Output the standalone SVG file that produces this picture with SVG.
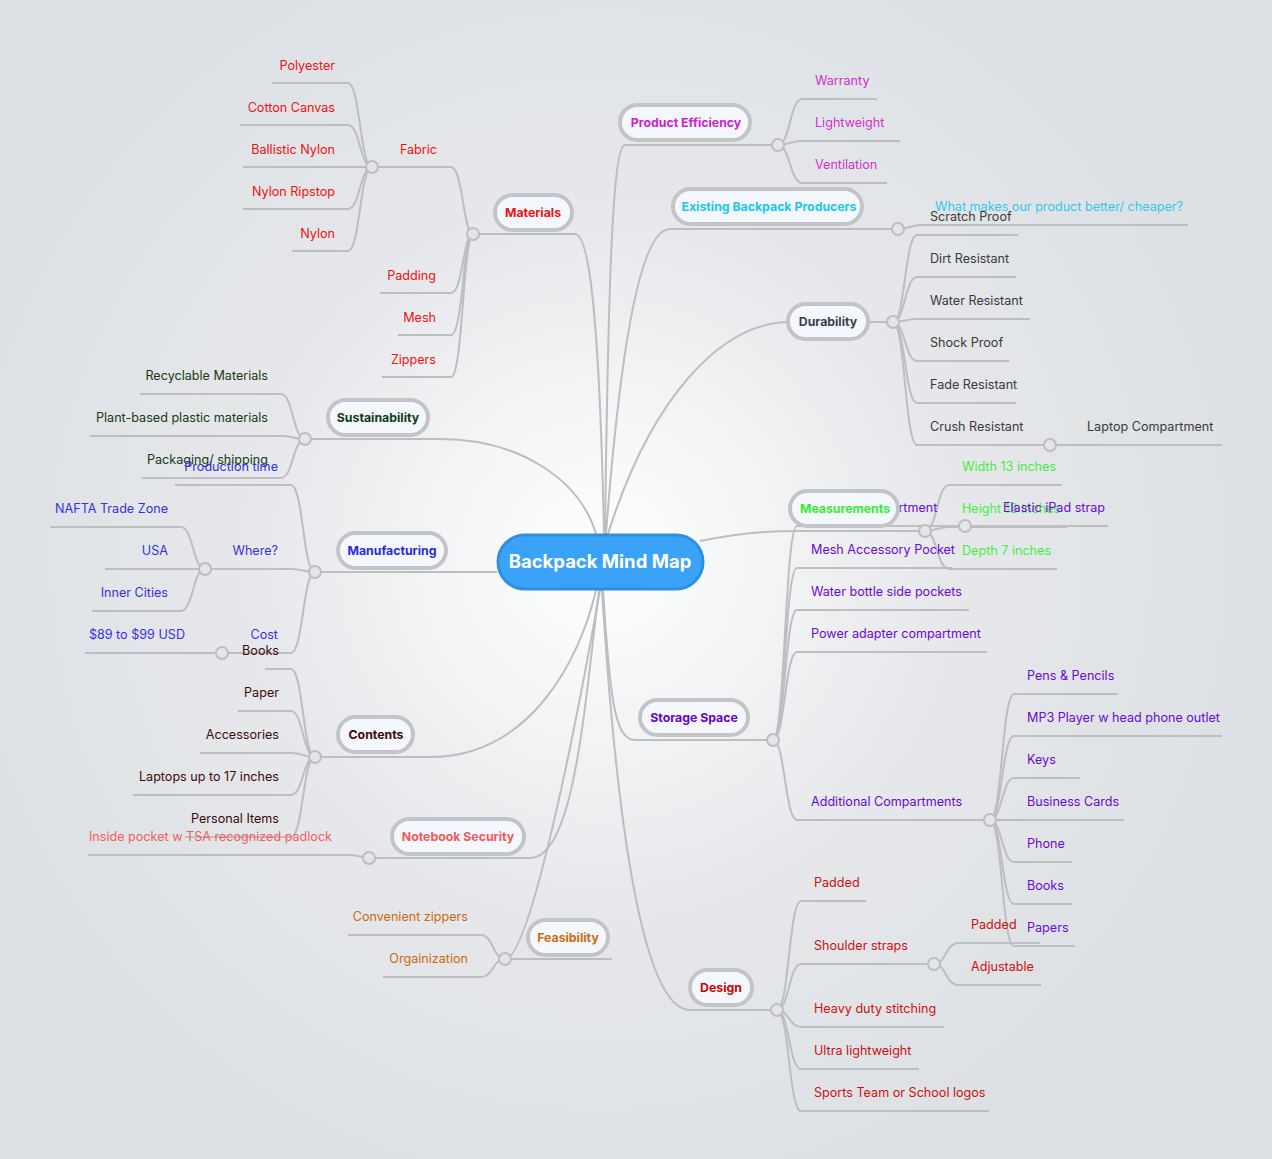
<svg xmlns="http://www.w3.org/2000/svg" width="1272" height="1159" viewBox="0 0 1272 1159">
<defs>
<radialGradient id="bg" cx="600" cy="560" r="700" gradientUnits="userSpaceOnUse">
<stop offset="0" stop-color="#ffffff"/><stop offset="0.5" stop-color="#e6e8eb"/><stop offset="1" stop-color="#dcdfe3"/>
</radialGradient>
<style>
text{font-family:Inter,"Noto Sans","Liberation Sans",sans-serif;font-size:12.6px}
.c path{fill:none;stroke:#bdbec1;stroke-width:2}
.dot{fill:#e3e5e8;stroke:#bdbec1;stroke-width:2}
.pill{fill:#f4f8fe;stroke:#c3c4c6;stroke-width:4}
.t{font-weight:bold;text-anchor:middle;font-size:12.3px}
.e{text-anchor:end}
</style>
</defs>
<rect width="1272" height="1159" fill="url(#bg)"/>
<g id="connectors" class="c">
<path d="M604 534 C600 350 592 234 575 234 H473"/>
<path d="M596 534 C580 480 520 439 440 439 H305"/>
<path d="M497 572 H315"/>
<path d="M596 590 C580 660 530 757 430 757 H315"/>
<path d="M599 590 C585 700 575 858 530 858 H369"/>
<path d="M600 590 C570 760 528 959 505 959 M505 959 H612"/>
<path d="M605 534 C608 300 612 145 625 145 H778"/>
<path d="M606 534 C620 350 640 229 670 229 H898"/>
<path d="M608 534 C650 400 720 322 790 322 M868 322 H893"/>
<path d="M700 541 C750 531 780 531 800 531 H925"/>
<path d="M603 590 C610 700 615 740 635 740 H773"/>
<path d="M602 590 C615 800 640 1010 690 1010 H777"/>
<path d="M473 234 C463 234 463 167 451 167 H372"/>
<path d="M473 234 C463 234 463 293 451 293 H380"/>
<path d="M473 234 C463 234 463 335 451 335 H398"/>
<path d="M473 234 C463 234 463 377 451 377 H382"/>
<path d="M372 167 C360 167 360 83 348 83 H272"/>
<path d="M372 167 C360 167 360 125 348 125 H240"/>
<path d="M372 167 H243"/>
<path d="M372 167 C360 167 360 209 348 209 H243"/>
<path d="M372 167 C360 167 360 251 348 251 H292"/>
<path d="M305 439 C293 439 293 394 281 394 H140"/>
<path d="M305 439 C293 439 293 436 281 436 H90"/>
<path d="M305 439 C293 439 293 478 281 478 H142"/>
<path d="M315 572 C303 572 303 485 291 485 H175"/>
<path d="M315 572 C303 572 303 569 291 569 H205"/>
<path d="M315 572 C303 572 303 653 291 653 H222"/>
<path d="M205 569 C193 569 193 527 181 527 H50"/>
<path d="M205 569 H105"/>
<path d="M205 569 C193 569 193 611 181 611 H92"/>
<path d="M222 653 H85"/>
<path d="M315 757 C303 757 303 669 291 669 H265"/>
<path d="M315 757 C303 757 303 711 291 711 H238"/>
<path d="M315 757 C303 757 303 753 291 753 H200"/>
<path d="M315 757 C303 757 303 795 291 795 H133"/>
<path d="M315 757 C303 757 303 837 291 837 H185"/>
<path d="M369 858 C360 858 360 855 350 855 H88"/>
<path d="M505 959 C493 959 493 935 481 935 H348"/>
<path d="M505 959 C493 959 493 977 481 977 H383"/>
<path d="M778 145 C790 145 790 99 802 99 H877"/>
<path d="M778 145 C790 145 790 141 802 141 H900"/>
<path d="M778 145 C790 145 790 183 802 183 H887"/>
<path d="M898 229 C910 229 910 225 922 225 H1188"/>
<path d="M893 322 C905 322 905 235 917 235 H1018"/>
<path d="M893 322 C905 322 905 277 917 277 H1016"/>
<path d="M893 322 C905 322 905 319 917 319 H1030"/>
<path d="M893 322 C905 322 905 361 917 361 H1009"/>
<path d="M893 322 C905 322 905 403 917 403 H1016"/>
<path d="M893 322 C905 322 905 445 917 445 H1222"/>
<path d="M925 531 C937 531 937 485 949 485 H1062"/>
<path d="M925 531 C937 531 937 527 949 527 H1067"/>
<path d="M925 531 C937 531 937 569 949 569 H1057"/>
<path d="M773 740 C785 740 785 526 797 526 H965 H1108"/>
<path d="M773 740 C785 740 785 568 797 568 H952"/>
<path d="M773 740 C785 740 785 610 797 610 H969"/>
<path d="M773 740 C785 740 785 652 797 652 H987"/>
<path d="M773 740 C785 740 785 820 797 820 H990"/>
<path d="M990 820 C1002 820 1002 694 1014 694 H1118"/>
<path d="M990 820 C1002 820 1002 736 1014 736 H1222"/>
<path d="M990 820 C1002 820 1002 778 1014 778 H1080"/>
<path d="M990 820 H1124"/>
<path d="M990 820 C1002 820 1002 862 1014 862 H1072"/>
<path d="M990 820 C1002 820 1002 904 1014 904 H1072"/>
<path d="M990 820 C1002 820 1002 946 1014 946 H1075"/>
<path d="M777 1010 C789 1010 789 901 801 901 H866"/>
<path d="M777 1010 C789 1010 789 964 801 964 H934"/>
<path d="M777 1010 C789 1010 789 1027 801 1027 H944"/>
<path d="M777 1010 C789 1010 789 1069 801 1069 H919"/>
<path d="M777 1010 C789 1010 789 1111 801 1111 H989"/>
<path d="M934 964 C946 964 946 943 958 943 H1040"/>
<path d="M934 964 C946 964 946 985 958 985 H1041"/>
</g>
<g id="dots">
<circle class="dot" cx="473" cy="234" r="6"/><circle class="dot" cx="372" cy="167" r="6"/>
<circle class="dot" cx="305" cy="439" r="6"/><circle class="dot" cx="315" cy="572" r="6"/>
<circle class="dot" cx="205" cy="569" r="6"/><circle class="dot" cx="222" cy="653" r="6"/>
<circle class="dot" cx="315" cy="757" r="6"/><circle class="dot" cx="369" cy="858" r="6"/>
<circle class="dot" cx="505" cy="959" r="6"/><circle class="dot" cx="778" cy="145" r="6"/>
<circle class="dot" cx="898" cy="229" r="6"/><circle class="dot" cx="893" cy="322" r="6"/>
<circle class="dot" cx="1050" cy="445" r="6"/><circle class="dot" cx="925" cy="531" r="6"/>
<circle class="dot" cx="965" cy="526" r="6"/><circle class="dot" cx="773" cy="740" r="6"/>
<circle class="dot" cx="990" cy="820" r="6"/><circle class="dot" cx="777" cy="1010" r="6"/>
<circle class="dot" cx="934" cy="964" r="6"/>
</g>
<g id="leaves">
<g fill="#ee1111">
<text x="437" y="154" class="e">Fabric</text><text x="436" y="280" class="e">Padding</text>
<text x="436" y="322" class="e">Mesh</text><text x="436" y="364" class="e">Zippers</text>
<text x="335" y="70" class="e">Polyester</text><text x="335" y="112" class="e">Cotton Canvas</text>
<text x="335" y="154" class="e">Ballistic Nylon</text><text x="335" y="196" class="e">Nylon Ripstop</text>
<text x="335" y="238" class="e">Nylon</text>
</g>
<g fill="#163a16">
<text x="268" y="380" class="e">Recyclable Materials</text><text x="268" y="422" class="e">Plant-based plastic materials</text>
<text x="268" y="464" class="e">Packaging/ shipping</text>
</g>
<g fill="#3333dd">
<text x="278" y="471" class="e">Production time</text><text x="278" y="555" class="e">Where?</text>
<text x="278" y="639" class="e">Cost</text><text x="168" y="513" class="e">NAFTA Trade Zone</text>
<text x="168" y="555" class="e">USA</text><text x="168" y="597" class="e">Inner Cities</text>
<text x="185" y="639" class="e">$89 to $99 USD</text>
</g>
<g fill="#3d0a0a">
<text x="279" y="655" class="e">Books</text><text x="279" y="697" class="e">Paper</text>
<text x="279" y="739" class="e">Accessories</text><text x="279" y="781" class="e">Laptops up to 17 inches</text>
<text x="279" y="823" class="e">Personal Items</text>
</g>
<text x="332" y="841" class="e" fill="#f06060">Inside pocket w TSA recognized padlock</text>
<g fill="#cc6a10">
<text x="468" y="921" class="e">Convenient zippers</text><text x="468" y="963" class="e">Orgainization</text>
</g>
<g fill="#cc33cc">
<text x="815" y="85">Warranty</text><text x="815" y="127">Lightweight</text><text x="815" y="169">Ventilation</text>
</g>
<text x="935" y="211" fill="#33c8f0">What makes our product better/ cheaper?</text>
<g fill="#3a3a3a">
<text x="930" y="221">Scratch Proof</text><text x="930" y="263">Dirt Resistant</text>
<text x="930" y="305">Water Resistant</text><text x="930" y="347">Shock Proof</text>
<text x="930" y="389">Fade Resistant</text><text x="930" y="431">Crush Resistant</text>
<text x="1087" y="431">Laptop Compartment</text>
</g>
<g fill="#44ee44">
<text x="962" y="471">Width 13 inches</text><text x="962" y="513">Height 18 inches</text><text x="962" y="555">Depth 7 inches</text>
</g>
<g fill="#6a0ad4">
<text x="811" y="512">Laptop Compartment</text><text x="1003" y="512">Elastic iPad strap</text>
<text x="811" y="554">Mesh Accessory Pocket</text><text x="811" y="596">Water bottle side pockets</text>
<text x="811" y="638">Power adapter compartment</text><text x="811" y="806">Additional Compartments</text>
<text x="1027" y="680">Pens &amp; Pencils</text><text x="1027" y="722">MP3 Player w head phone outlet</text>
<text x="1027" y="764">Keys</text><text x="1027" y="806">Business Cards</text>
<text x="1027" y="848">Phone</text><text x="1027" y="890">Books</text><text x="1027" y="932">Papers</text>
</g>
<g fill="#cc1111">
<text x="814" y="887">Padded</text><text x="814" y="950">Shoulder straps</text>
<text x="814" y="1013">Heavy duty stitching</text><text x="814" y="1055">Ultra lightweight</text>
<text x="814" y="1097">Sports Team or School logos</text>
<text x="971" y="929">Padded</text><text x="971" y="971">Adjustable</text>
</g>
</g>
<g id="n-materials"><rect class="pill" x="495" y="195" width="77" height="35" rx="17.5"/><text class="t" x="533" y="217" fill="#ee1111">Materials</text></g>
<g id="n-sustainability"><rect class="pill" x="328" y="400" width="100" height="35" rx="17.5"/><text class="t" x="378" y="422" fill="#0d3d14">Sustainability</text></g>
<g id="n-manufacturing"><rect class="pill" x="338" y="533" width="108" height="35" rx="17.5"/><text class="t" x="392" y="555" fill="#2b2bd9">Manufacturing</text></g>
<g id="n-contents"><rect class="pill" x="338" y="717" width="75" height="35" rx="17.5"/><text class="t" x="376" y="739" fill="#3d0a0a">Contents</text></g>
<g id="n-notebook"><rect class="pill" x="392" y="819" width="132" height="35" rx="17.5"/><text class="t" x="458" y="841" fill="#f05a5a">Notebook Security</text></g>
<g id="n-feasibility"><rect class="pill" x="528" y="920" width="80" height="35" rx="17.5"/><text class="t" x="568" y="942" fill="#cc6a10">Feasibility</text></g>
<g id="n-product"><rect class="pill" x="620" y="105" width="130" height="35" rx="17.5"/><text class="t" x="686" y="127" fill="#cc22cc">Product Efficiency</text></g>
<g id="n-existing"><rect class="pill" x="673" y="189" width="189" height="35" rx="17.5"/><text class="t" x="769" y="211" fill="#22c5ee">Existing Backpack Producers</text></g>
<g id="n-durability"><rect class="pill" x="788" y="304" width="80" height="35" rx="17.5"/><text class="t" x="828" y="326" fill="#3a3f4a">Durability</text></g>
<g id="n-measurements"><rect class="pill" x="790" y="491" width="108" height="35" rx="17.5"/><text class="t" x="845" y="513" fill="#33ee33">Measurements</text></g>
<g id="n-storage"><rect class="pill" x="640" y="700" width="108" height="35" rx="17.5"/><text class="t" x="694" y="722" fill="#6600cc">Storage Space</text></g>
<g id="n-design"><rect class="pill" x="690" y="970" width="62" height="35" rx="17.5"/><text class="t" x="721" y="992" fill="#cc0000">Design</text></g>
<g id="n-center"><rect x="498" y="535" width="205" height="54" rx="27" fill="#3aa3f8" stroke="#2f8fe0" stroke-width="3"/><text class="t" x="600" y="568" fill="#fff" style="font-size:18.5px">Backpack Mind Map</text></g>
</svg>
